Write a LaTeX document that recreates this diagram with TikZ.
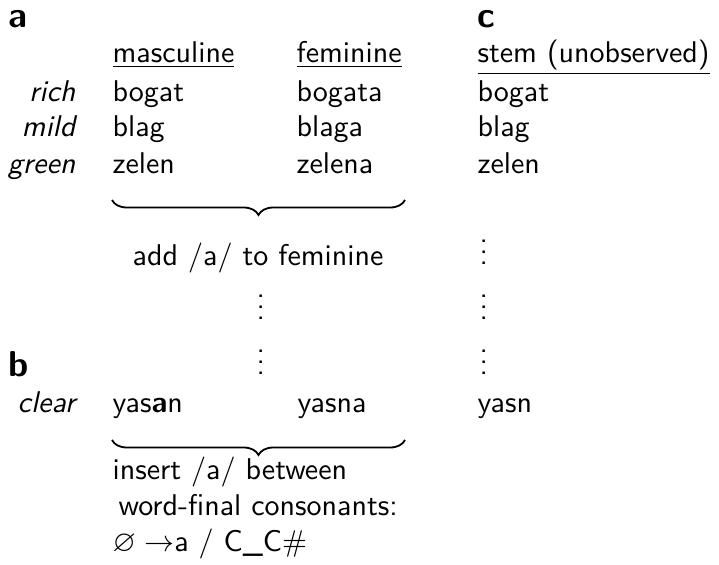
\documentclass[tikz,border=0pt]{standalone}
\usepackage{amsmath,amssymb}
\usepackage{fontspec}
\usepackage{tikz}
\usetikzlibrary{decorations.pathreplacing}
\newcommand{\stackdots}{\vbox{\baselineskip3.8pt\lineskiplimit0pt\hbox{.}\hbox{.}\hbox{.}}}

\begin{document}
\begin{tikzpicture}[x=0.3333pt,y=0.3333pt,yscale=-1,xscale=1,
  word/.style={anchor=base west,inner sep=0pt,font=\sffamily},
  gloss/.style={anchor=base east,inner sep=0pt,font=\sffamily\itshape},
  panel/.style={anchor=base west,inner sep=0pt,font=\sffamily\large\bfseries},
  dots/.style={anchor=base west,inner sep=0pt,font=\sffamily},
  rulebrace/.style={decorate,decoration={brace,mirror,amplitude=5pt},line width=0.6pt}]
\useasboundingbox (0,0) rectangle (719,565);

% Panel letters
\draw (8,27) node (panelA) [panel] {a};
\draw (8,377) node (panelB) [panel] {b};
\draw (477,27) node (panelC) [panel] {c};

% Text Node
\draw (112,62) node (mascHead) [word] {\underline{masculine}};
% Text Node
\draw (296,62) node (femHead) [word] {\underline{feminine}};
% Text Node
\draw (477,62) node (stemHead) [word] {\underline{stem (unobserved)}};

% Text Node
\draw (76,101) node (glossRich) [gloss] {rich};
\draw (112,101) node (mascRich) [word] {bogat};
\draw (296,101) node (femRich) [word] {bogata};
\draw (477,101) node (stemRich) [word] {bogat};
% Text Node
\draw (76,137) node (glossMild) [gloss] {mild};
\draw (112,137) node (mascMild) [word] {blag};
\draw (296,137) node (femMild) [word] {blaga};
\draw (477,137) node (stemMild) [word] {blag};
% Text Node
\draw (76,174) node (glossGreen) [gloss] {green};
\draw (112,174) node (mascGreen) [word] {zelen};
\draw (296,174) node (femGreen) [word] {zelena};
\draw (477,174) node (stemGreen) [word] {zelen};

%Brace a
\coordinate (braceAl) at (112,200);
\coordinate (braceAr) at (405,200);
\draw [rulebrace] (braceAl) -- (braceAr);
% Text Node
\draw (258,266) node (ruleA) [anchor=base,inner sep=0pt,font=\sffamily] {add /a/ to feminine};

% Dots
\draw (256,320) node (midDots1) [dots] {\stackdots};
\draw (256,375) node (midDots2) [dots] {\stackdots};
\draw (479,265) node (stemDots1) [dots] {\stackdots};
\draw (479,320) node (stemDots2) [dots] {\stackdots};
\draw (479,375) node (stemDots3) [dots] {\stackdots};

% Text Node
\draw (76,413) node (glossClear) [gloss] {clear};
\draw (112,413) node (mascClear) [word] {yas\textbf{a}n};
\draw (297,413) node (femClear) [word] {yasna};
\draw (477,413) node (stemClear) [word] {yasn};

%Brace b
\coordinate (braceBl) at (112,440);
\coordinate (braceBr) at (405,440);
\draw [rulebrace] (braceBl) -- (braceBr);
% Text Node
\draw (112,480) node (ruleB1) [word] {insert /a/ between};
\draw (118,516) node (ruleB2) [word] {word-final consonants:};
\draw (112,552) node (ruleB3) [word] {$\varnothing\rightarrow$a / C\_C\#};

\end{tikzpicture}
\end{document}
